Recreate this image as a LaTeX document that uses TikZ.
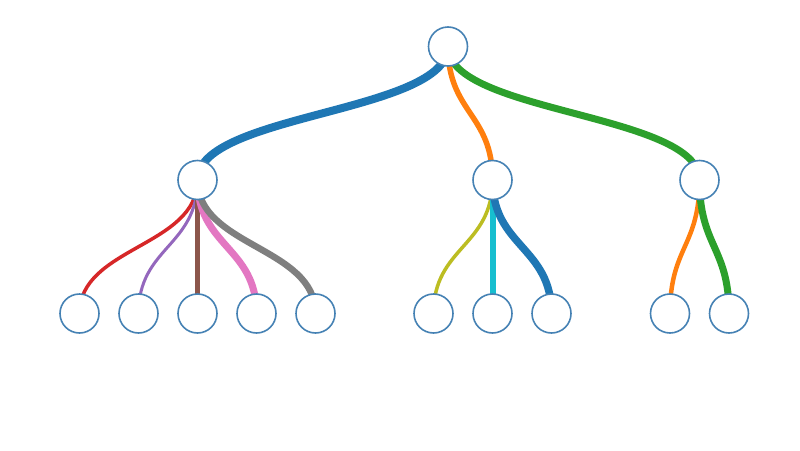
\documentclass[tikz,border=0pt]{standalone}
\usetikzlibrary{backgrounds,calc}
\definecolor{nodeblue}{RGB}{70,130,180}
\definecolor{cA}{HTML}{1F77B4}
\definecolor{cB}{HTML}{FF7F0E}
\definecolor{cC}{HTML}{2CA02C}
\definecolor{cD}{HTML}{D62728}
\definecolor{cE}{HTML}{9467BD}
\definecolor{cF}{HTML}{8C564B}
\definecolor{cG}{HTML}{E377C2}
\definecolor{cH}{HTML}{7F7F7F}
\definecolor{cI}{HTML}{BCBD22}
\definecolor{cJ}{HTML}{17BECF}
\tikzset{
  treenode/.style={circle, draw=nodeblue, line width=1.6pt, fill=white, minimum size=39pt, inner sep=0pt},
  treelink/.style={line cap=butt}
}
\newcommand{\treelnk}[4]{%
  \draw[treelink, draw=#3, line width=#4] let \p1=(#1.center), \p2=(#2.center), \n1={0.5*(\y1+\y2)} in
    (\p1) .. controls (\x1,\n1) and (\x2,\n1) .. (\p2);}
\begin{document}
\begin{tikzpicture}[x=1pt,y=-1pt]
\useasboundingbox (0,0) rectangle (800,450);
\node[treenode] (r) at (448,46.5) {};
\node[treenode] (a) at (197.5,180) {};
\node[treenode] (b) at (492.5,180) {};
\node[treenode] (c) at (699.5,180) {};
\node[treenode] (a1) at (79.5,313.5) {};
\node[treenode] (a2) at (138.5,313.5) {};
\node[treenode] (a3) at (197.5,313.5) {};
\node[treenode] (a4) at (256.5,313.5) {};
\node[treenode] (a5) at (315.5,313.5) {};
\node[treenode] (b1) at (433.5,313.5) {};
\node[treenode] (b2) at (492.5,313.5) {};
\node[treenode] (b3) at (551.5,313.5) {};
\node[treenode] (c1) at (670,313.5) {};
\node[treenode] (c2) at (729,313.5) {};
\begin{scope}[on background layer]
\fill[white] (0,0) rectangle (800,450);
\treelnk{r}{a}{cA}{8pt}
\treelnk{r}{b}{cB}{5.5pt}
\treelnk{r}{c}{cC}{7pt}
\treelnk{a}{a1}{cD}{3.5pt}
\treelnk{a}{a2}{cE}{3pt}
\treelnk{a}{a3}{cF}{4.5pt}
\treelnk{a}{a4}{cG}{7pt}
\treelnk{a}{a5}{cH}{6.5pt}
\treelnk{b}{b1}{cI}{3.5pt}
\treelnk{b}{b2}{cJ}{6pt}
\treelnk{b}{b3}{cA}{7.5pt}
\treelnk{c}{c1}{cB}{4.5pt}
\treelnk{c}{c2}{cC}{7pt}
\end{scope}
\end{tikzpicture}
\end{document}
